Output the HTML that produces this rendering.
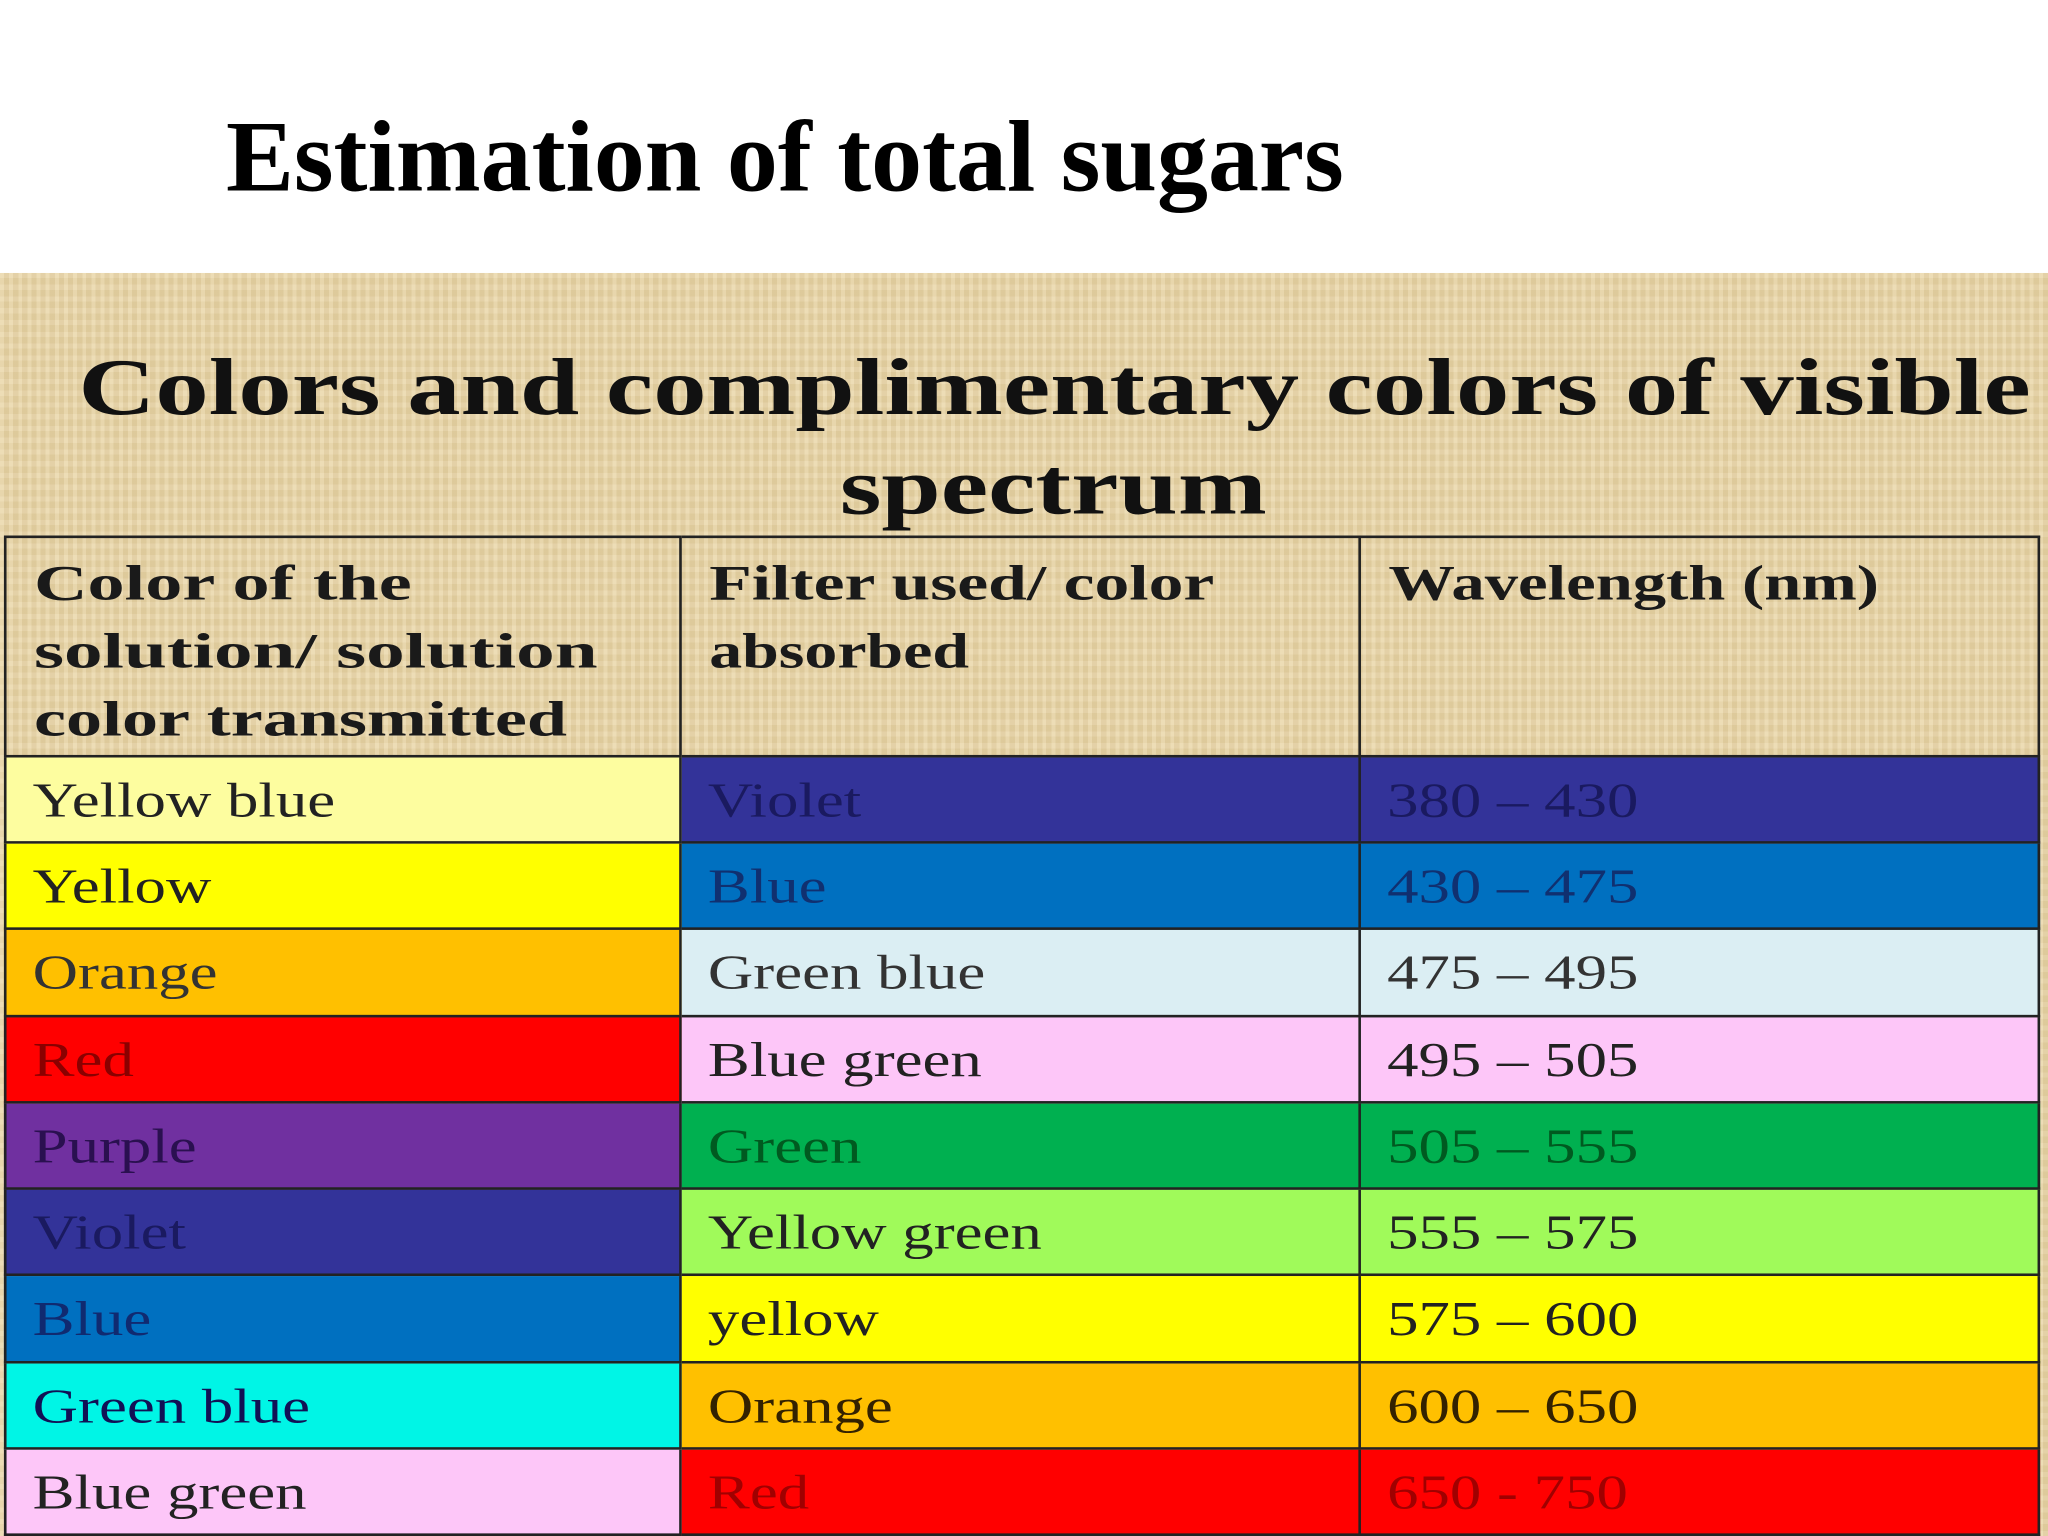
<!DOCTYPE html>
<html><head><meta charset="utf-8"><style>
html,body{margin:0;padding:0;background:#fff;overflow:hidden}
#stage{position:absolute;left:0;top:0;width:1568px;height:1176px;transform:scale(1.30612);transform-origin:0 0;font-family:"Liberation Serif",serif}
#title{position:absolute;left:173px;top:75px;font-size:78px;font-weight:bold;color:#000;white-space:nowrap}
#panel{position:absolute;left:0;top:209px;width:1568px;height:967px;background:#e9d4a3;
background-image:repeating-linear-gradient(90deg,rgba(255,255,255,0.12) 0 3px,rgba(0,0,0,0.03) 3px 7px),repeating-linear-gradient(0deg,rgba(255,255,255,0.1) 0 4px,rgba(0,0,0,0.02) 4px 9px)}
.fit{position:absolute;white-space:nowrap;transform-origin:0 0;display:inline-block}
.h{font-weight:bold;font-size:62px;color:#111}
.cell{position:absolute;box-sizing:border-box;border-right:2px solid #222;border-bottom:2px solid #222;font-size:37px;color:#222;white-space:nowrap}
.hl{font-weight:bold;font-size:38px;color:#1a1a1a}
</style></head><body>
<div id="stage">
<div id="title">Estimation of total sugars</div>
<div id="panel"></div>
<span class="fit h" data-fit="60,1495" style="left:60px;top:262px">Colors and complimentary colors of visible</span>
<span class="fit h" data-fit="643,327" style="left:643px;top:338px">spectrum</span>
<div id="table"></div>
</div>
<script>
const col1 = ["Yellow blue","Yellow","Orange","Red","Purple","Violet","Blue","Green blue","Blue green"];
const col2 = ["Violet","Blue","Green blue","Blue green","Green","Yellow green","yellow","Orange","Red"];
const col3 = ["380 – 430","430 – 475","475 – 495","495 – 505","505 – 555","555 – 575","575 – 600","600 – 650","650 - 750"];
const bg1 = ["#fdfd9f","#ffff00","#ffc000","#ff0000","#7030a0","#333399","#0070c0","#00f5e6","#fdc6f8"];
const bg2 = ["#333399","#0070c0","#dbeef3","#fdc6f8","#00b050","#a0fa5a","#ffff00","#ffc000","#ff0000"];
const fg1 = ["#222","#222","#333","#8a0000","#2a1050","#1a1a60","#102a70","#115","#222"];
const fg2 = ["#1a1a60","#103070","#333","#222","#005a20","#222","#222","#332200","#a00000"];
const xs=[3,522,1042,1562], top0=410, hdrH=170, rowH=(1176-580)/9;
const t=document.getElementById('table');
function cell(x,y,w,h,bg,name,extra){
  const d=document.createElement('div');
  d.className='cell';
  d.style.cssText=`left:${x}px;top:${y}px;width:${w}px;height:${h}px;background:${bg};`+(extra||'');
  
  
  t.appendChild(d);return d;
}
function txt(parent,s,x,y,cls,fg,targetW,scale,name){
  const sp=document.createElement('span');
  sp.className='fit '+(cls||'');
  sp.style.left=x+'px';sp.style.top=y+'px';sp.style.color=fg;
  sp.textContent=s;
  
  
  parent.appendChild(sp);
  const w=sp.offsetWidth;
  const k=targetW?targetW/w:scale;
  sp.style.transform='scaleX('+k+')';
}
const hdr=[[["Color of  the",290],["solution/ solution",432],["color transmitted",408]],[["Filter used/ color",387],["absorbed",199]],[["Wavelength (nm)",376]]];
for(let c=0;c<3;c++){
  const d=cell(xs[c],top0,xs[c+1]-xs[c],hdrH,'transparent','header-cell-'+(c+1),'border-top:2px solid #222;'+(c==0?'border-left:2px solid #222;':''));
  hdr[c].forEach((l,i)=>txt(d,l[0],21,13+i*52,'hl','#1a1a1a',l[1],0,'header-line-'+(c+1)+'-'+(i+1)));
}
for(let r=0;r<col1.length;r++){
  const y=top0+hdrH+r*rowH;
  const a=cell(xs[0],y,xs[1]-xs[0],rowH,bg1[r],'solution-color-'+(r+1),'border-left:2px solid #222;');
  txt(a,col1[r],20,12,'',fg1[r],0,1.3,'solution-color-text-'+(r+1));
  const b=cell(xs[1],y,xs[2]-xs[1],rowH,bg2[r],'filter-color-'+(r+1));
  txt(b,col2[r],20,12,'',fg2[r],0,1.3,'filter-color-text-'+(r+1));
  const c=cell(xs[2],y,xs[3]-xs[2],rowH,bg2[r],'wavelength-'+(r+1));
  txt(c,col3[r],20,12,'',fg2[r],0,1.3,'wavelength-text-'+(r+1));
}
document.querySelectorAll('[data-fit]').forEach(e=>{
  const p=e.getAttribute('data-fit').split(',');
  e.style.transform='scaleX('+(+p[1]/e.offsetWidth)+')';
});
</script>
</body></html>
